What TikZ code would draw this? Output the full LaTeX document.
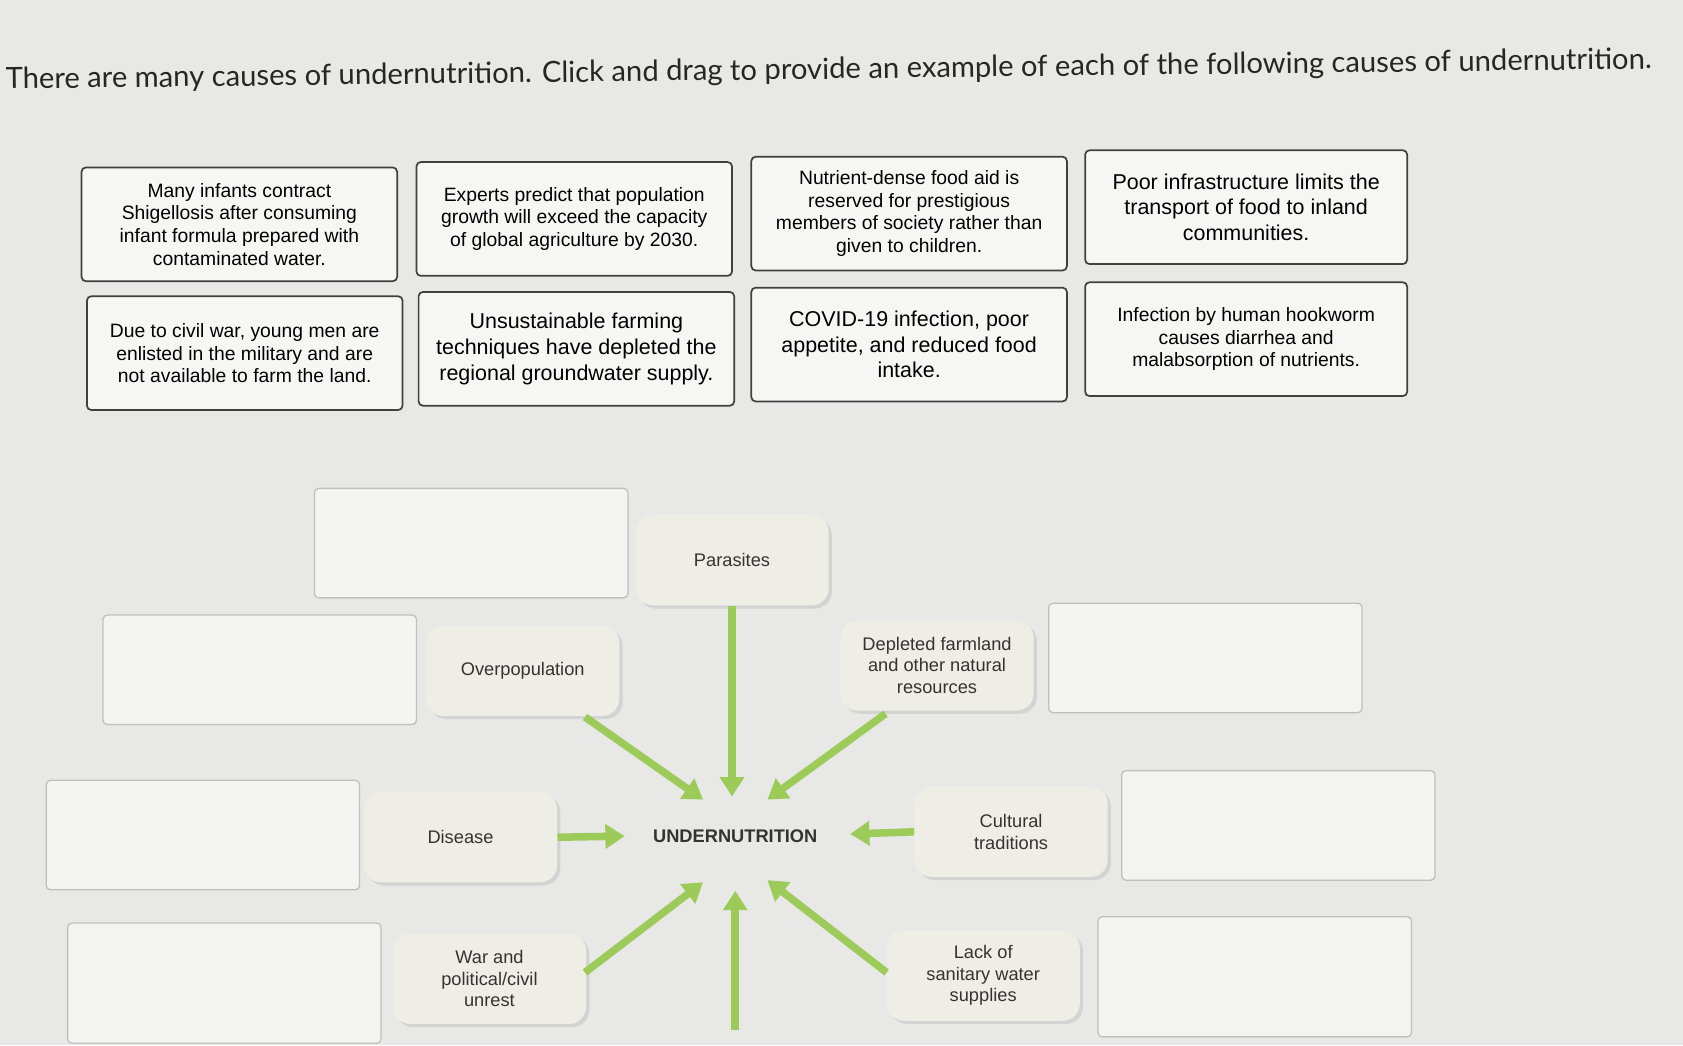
\documentclass[tikz,border=0pt]{standalone}
\usepackage{fontspec}
\setmainfont{Liberation Sans}
\newfontfamily\titlefont{Lato}
\usetikzlibrary{arrows.meta,shadows}
\definecolor{bg}{HTML}{E8E8E6}
\definecolor{gr}{HTML}{9CCB5A}
\definecolor{beige}{HTML}{EEEEE6}
\begin{document}
\begin{tikzpicture}[x=0.5pt,y=-0.5pt,
 cbox/.style={draw=black!75,line width=0.8pt,fill=white!60!bg,rounded corners=2pt,minimum width=147pt,minimum height=53pt,align=center,font=\fontsize{9}{10.5}\selectfont,inner sep=2pt},
 ebox/.style={draw=black!25,line width=0.6pt,fill=white!50!bg,rounded corners=2pt,minimum width=146pt,minimum height=51pt},
 cause/.style={fill=beige,rounded corners=8pt,minimum width=90pt,minimum height=42pt,align=center,font=\fontsize{8.5}{10}\selectfont,text=black!80,drop shadow={shadow xshift=1.5pt,shadow yshift=-1.5pt,fill=black!25}},
 garr/.style={gr,line width=3.5pt,-{Triangle[width=11pt,length=9pt]}}]
\useasboundingbox (0,0) rectangle (1568,974);
\fill[bg] (0,0) rectangle (1568,974);
\node[font=\titlefont\fontsize{13.6}{16}\selectfont,rotate=0.7,text=black!85] (title) at (772,66) {There are many causes of undernutrition. Click and drag to provide an example of each of the following causes of undernutrition.};
% answer cards
\node[cbox] (c1) at (223,209) {Many infants contract\\Shigellosis after consuming\\infant formula prepared with\\contaminated water.};
\node[cbox] (c2) at (535,204) {Experts predict that population\\growth will exceed the capacity\\of global agriculture by 2030.};
\node[cbox] (c3) at (847,199) {Nutrient-dense food aid is\\reserved for prestigious\\members of society rather than\\given to children.};
\node[cbox,minimum width=150pt,font=\fontsize{10}{12}\selectfont] (c4) at (1161,193) {Poor infrastructure limits the\\transport of food to inland\\communities.};
\node[cbox] (c5) at (228,329) {Due to civil war, young men are\\enlisted in the military and are\\not available to farm the land.};
\node[cbox,font=\fontsize{10}{12}\selectfont] (c6) at (537,325) {Unsustainable farming\\techniques have depleted the\\regional groundwater supply.};
\node[cbox,font=\fontsize{10}{12}\selectfont] (c7) at (847,321) {COVID-19 infection, poor\\appetite, and reduced food\\intake.};
\node[cbox,minimum width=150pt] (c8) at (1161,316) {Infection by human hookworm\\causes diarrhea and\\malabsorption of nutrients.};
% empty drop zones
\node[ebox] (e1) at (439,506) {};
\node[ebox] (e2) at (242,624) {};
\node[ebox] (e3) at (189,778) {};
\node[ebox,minimum height=56pt] (e4) at (209,916) {};
\node[ebox] (e5) at (1123,613) {};
\node[ebox] (e6) at (1191,769) {};
\node[ebox,minimum height=56pt] (e7) at (1169,910) {};
% causes
\node[cause] (par) at (682,522) {Parasites};
\node[cause] (ovp) at (487,625) {Overpopulation};
\node[cause] (dep) at (873,620) {Depleted farmland\\and other natural\\resources};
\node[cause] (dis) at (429,780) {Disease};
\node[cause] (cul) at (942,775) {Cultural\\traditions};
\node[cause] (war) at (456,912) {War and\\political/civil\\unrest};
\node[cause] (lack) at (916,909) {Lack of\\sanitary water\\supplies};
\node[font=\bfseries\fontsize{8.5}{10}\selectfont,text=black!80] (und) at (685,779) {UNDERNUTRITION};
\coordinate (bot) at (685,960);
% arrows
\draw[garr] (par.south) -- (682,742);
\draw[garr] (545,668) -- (655,745);
\draw[garr] (825,665) -- (715,745);
\draw[garr] (dis.east) -- (582,779);
\draw[garr] (cul.west) -- (792,777);
\draw[garr] (545,906) -- (655,822);
\draw[garr] (826,906) -- (715,820);
\draw[garr] (bot) -- (685,830);
\end{tikzpicture}
\end{document}
